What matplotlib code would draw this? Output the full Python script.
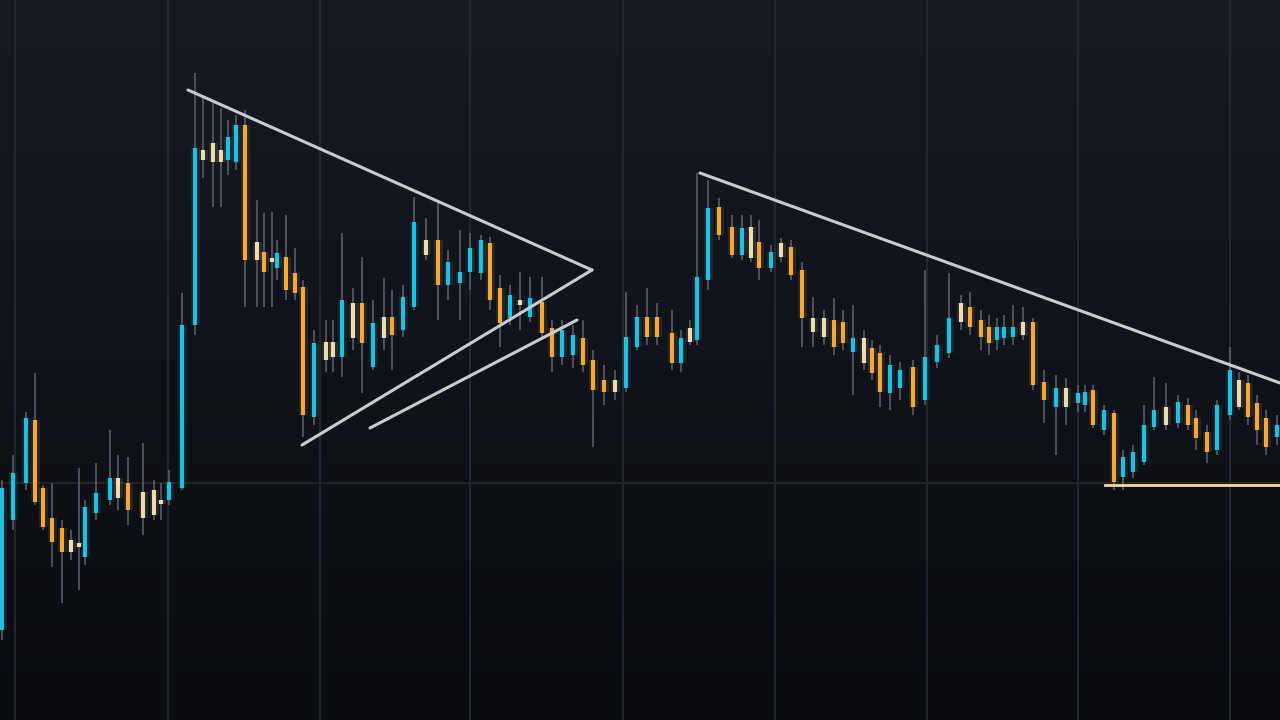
import numpy as np
import matplotlib.pyplot as plt

# candle time positions and OHLC levels
t = [2, 13, 26, 35, 43, 52, 62, 71, 79, 85, 96, 110, 118, 128, 143, 154, 161, 169,
     182, 195, 203, 213, 221, 228, 236, 245, 257, 264, 272, 277, 286, 295, 303, 314,
     326, 333, 342, 353, 362, 373, 384, 392, 403, 414, 426, 438, 448, 460, 470, 481,
     490, 500, 510, 520, 530, 542, 552, 562, 573, 583, 593, 604, 615, 626, 637, 647,
     657, 672, 681, 690, 697, 708, 719, 732, 742, 751, 759, 771, 781, 791, 802, 813,
     824, 834, 843, 853, 864, 872, 880, 890, 900, 913, 925, 937, 949, 961, 970, 981,
     989, 997, 1004, 1013, 1023, 1033, 1044, 1056, 1066, 1078, 1085, 1093, 1104, 1114,
     1123, 1133, 1144, 1154, 1166, 1178, 1188, 1196, 1207, 1217, 1230, 1239, 1248, 1257,
     1266, 1277]
opens = [90, 200, 237, 300, 232, 202, 192, 180, 177, 163, 207, 220, 242, 237, 228, 230, 220, 220,
         232, 395, 570, 577, 570, 560, 558, 595, 478, 468, 462, 452, 463, 447, 433, 303,
         360, 378, 363, 417, 417, 353, 403, 403, 390, 413, 480, 480, 435, 437, 448, 447,
         477, 432, 402, 420, 403, 418, 392, 363, 365, 382, 360, 340, 340, 332, 373, 403,
         403, 387, 357, 392, 380, 440, 513, 493, 465, 493, 478, 452, 477, 473, 450, 402,
         402, 400, 398, 368, 382, 372, 367, 327, 332, 353, 320, 358, 367, 398, 413, 400,
         393, 380, 382, 383, 385, 398, 338, 313, 332, 317, 315, 330, 290, 307,
         243, 248, 258, 293, 313, 297, 315, 302, 288, 270, 305, 340, 337, 317,
         302, 283]
closes = [232, 247, 302, 218, 193, 178, 168, 168, 173, 213, 227, 242, 222, 210, 202, 205, 216, 238,
          395, 572, 560, 558, 558, 583, 595, 460, 460, 448, 458, 467, 430, 427, 305, 377,
          378, 363, 420, 382, 377, 397, 382, 385, 423, 498, 465, 435, 458, 448, 472, 480,
          420, 397, 425, 415, 422, 387, 363, 390, 385, 355, 330, 328, 328, 383, 403, 383,
          383, 357, 382, 378, 443, 512, 485, 465, 492, 462, 452, 468, 463, 445, 402, 388,
          383, 373, 377, 382, 357, 347, 328, 355, 350, 313, 363, 375, 402, 417, 393, 383,
          377, 393, 393, 393, 398, 335, 320, 332, 313, 327, 328, 295, 310, 238,
          263, 268, 295, 310, 295, 318, 295, 282, 268, 315, 350, 313, 303, 290,
          273, 295]
highs = [240, 265, 308, 347, 235, 237, 200, 190, 252, 220, 257, 290, 265, 263, 277, 240, 237, 250,
         427, 647, 622, 617, 612, 600, 605, 610, 520, 507, 508, 480, 505, 472, 440, 390,
         400, 400, 487, 432, 463, 420, 442, 430, 435, 523, 502, 520, 470, 490, 487, 485,
         483, 445, 435, 448, 443, 443, 400, 400, 395, 400, 370, 355, 350, 428, 415, 432,
         417, 410, 390, 400, 547, 540, 522, 505, 505, 505, 500, 475, 482, 480, 458, 423,
         410, 422, 410, 415, 390, 380, 375, 365, 358, 360, 450, 385, 447, 425, 428, 410,
         405, 402, 405, 415, 413, 402, 350, 345, 342, 335, 335, 335, 315, 310,
         270, 275, 315, 343, 337, 325, 322, 310, 295, 320, 373, 348, 345, 325,
         310, 305]
lows = [80, 190, 230, 215, 190, 153, 117, 160, 130, 155, 200, 215, 210, 195, 185, 200, 200, 215,
        230, 385, 542, 513, 513, 545, 550, 413, 413, 413, 413, 440, 420, 420, 283, 295,
        348, 348, 343, 370, 327, 350, 370, 350, 383, 410, 460, 400, 420, 400, 430, 440,
        410, 373, 395, 390, 398, 380, 348, 355, 352, 348, 273, 315, 320, 328, 370, 375,
        375, 350, 348, 375, 375, 430, 480, 462, 460, 458, 440, 448, 458, 440, 373, 373,
        375, 365, 370, 325, 350, 340, 313, 310, 320, 305, 315, 352, 362, 390, 385, 370,
        365, 370, 375, 375, 380, 330, 297, 265, 295, 308, 308, 292, 285, 230,
        230, 242, 255, 290, 290, 292, 290, 270, 257, 265, 300, 310, 295, 275,
        265, 275]
# small pale candles (drawn cream instead of cyan / orange)
cream_t = [71, 79, 118, 143, 154, 161, 203, 213, 221, 257, 272, 326, 333, 353, 384,
           426, 520, 615, 690, 751, 781, 813, 824, 864, 961, 1023, 1066, 1166, 1239]

# drawn lines: (t0, level0, t1, level1)
triangle_top = (188, 630, 592, 450)
triangle_bottom = (302, 275, 592, 450)
channel_low = (370, 292, 577, 400)
desc_top = (700, 547, 1280, 337)
support = (1105, 235, 1280, 235)
grid_t = [15, 168, 320, 470, 623, 775, 927, 1078, 1230]
base_level = 237

up_c, down_c, cream_c = "#22c0e0", "#f3a93a", "#ecdcb0"

fig = plt.figure(figsize=(12.8, 7.2), dpi=100)
ax = fig.add_axes([0, 0, 1, 1])
ax.set_xlim(0, 1280)
ax.set_ylim(0, 720)
ax.axis("off")

# background gradient, lighter at top
top = np.array([0x16, 0x1a, 0x22]) / 255
bot = np.array([0x0a, 0x0c, 0x10]) / 255
g = np.linspace(0, 1, 256)[:, None]
grad = bot + (top - bot) * g
ax.imshow(np.repeat(grad[:, None, :], 2, axis=1), extent=(0, 1280, 0, 720),
          origin="lower", aspect="auto", zorder=0)

for gx in grid_t:
    ax.axvline(gx, color="#272c34", lw=1.2, zorder=1)
ax.axhline(base_level, color="#27221e", lw=1.5, zorder=1)

ax.vlines(t, lows, highs, color="#5d6270", lw=1.3, alpha=0.85, zorder=2)

for i in range(len(t)):
    if t[i] in cream_t:
        c = cream_c
    elif closes[i] > opens[i]:
        c = up_c
    else:
        c = down_c
    lo = min(opens[i], closes[i])
    h = max(abs(closes[i] - opens[i]), 3)
    ax.bar(t[i], h, bottom=lo, width=9, color=c, alpha=0.12, zorder=3)
    ax.bar(t[i], h, bottom=lo, width=4.5, color=c, zorder=4)

for seg in (triangle_top, triangle_bottom, channel_low, desc_top):
    ax.plot([seg[0], seg[2]], [seg[1], seg[3]], color="#c9cbcf", lw=2.2,
            solid_capstyle="round", zorder=5)
ax.plot([support[0], support[2]], [support[1], support[3]], color="#f1d7ad",
        lw=2.0, zorder=5)

fig.savefig("out.png", dpi=100)
